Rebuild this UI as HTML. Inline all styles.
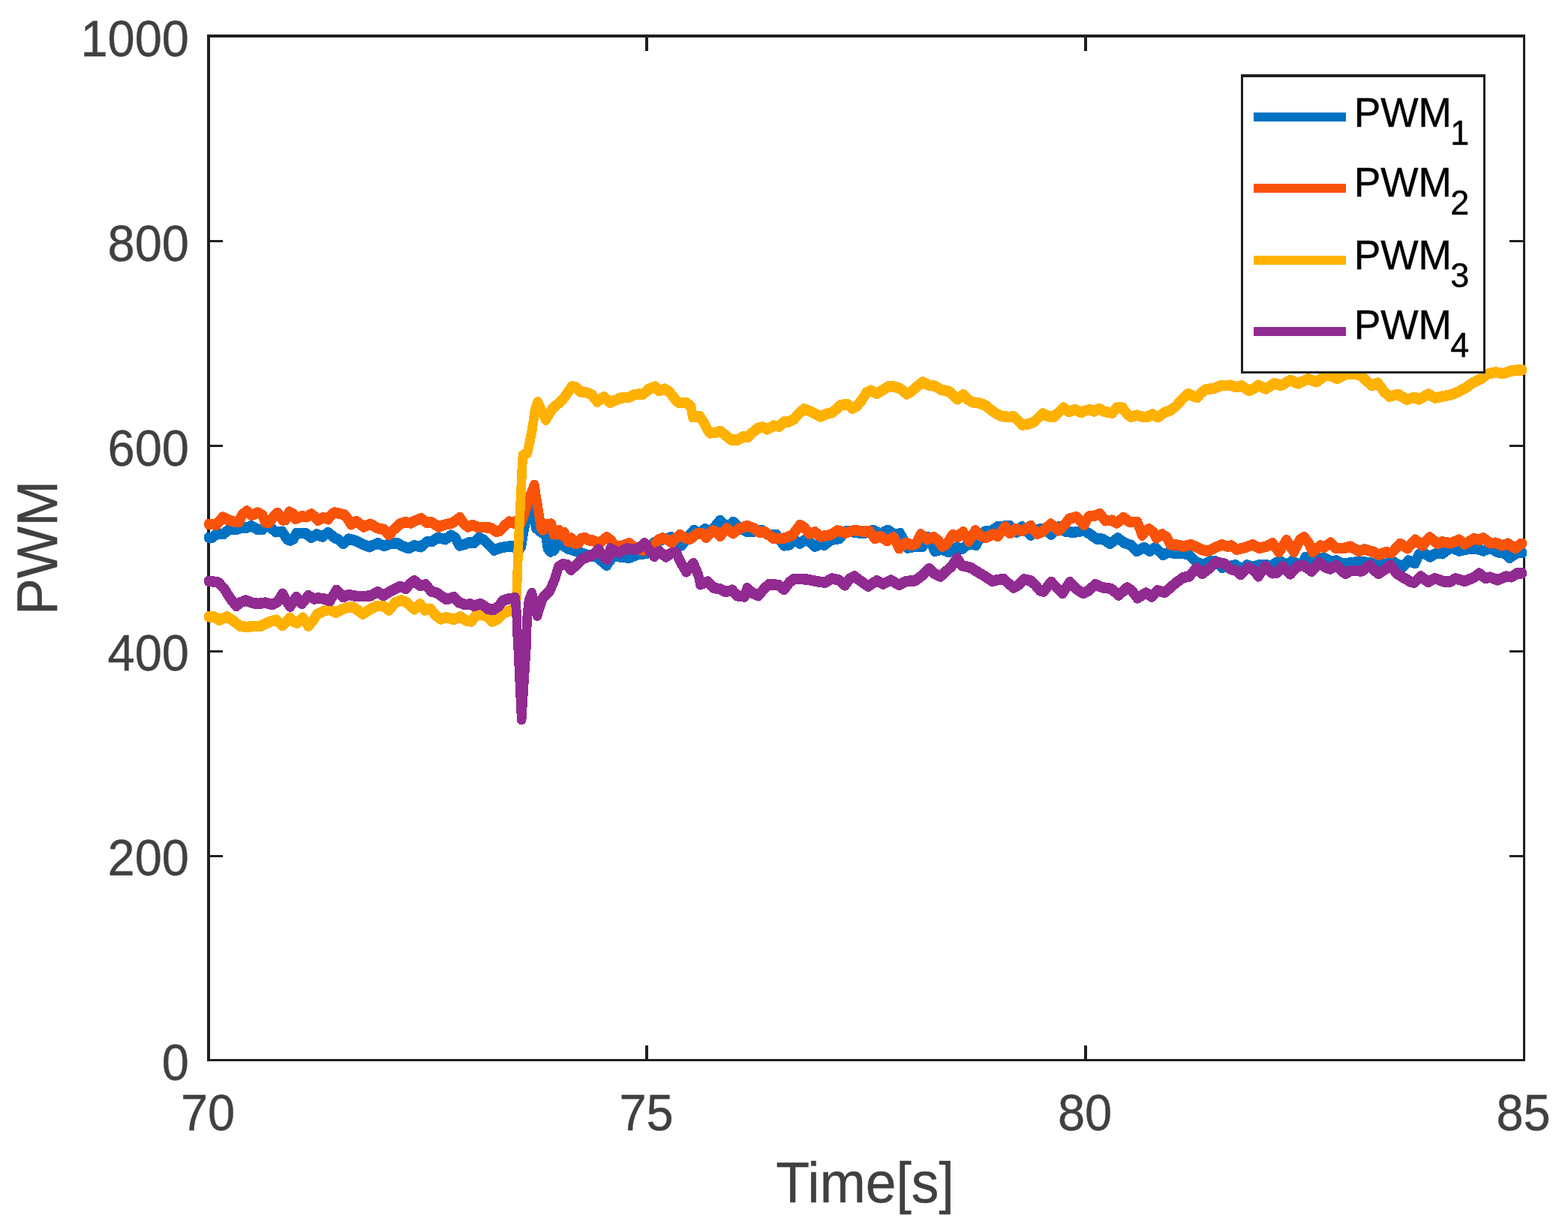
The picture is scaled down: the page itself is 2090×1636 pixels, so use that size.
<!DOCTYPE html>
<html lang="en">
<head>
<meta charset="utf-8">
<title>PWM vs Time</title>
<style>
html,body{margin:0;padding:0;background:#ffffff;}
body{width:2090px;height:1636px;overflow:hidden;}
svg{display:block;}
svg text{font-family:"Liberation Sans",sans-serif;}
</style>
</head>
<body>
<svg width="2090" height="1636" viewBox="0 0 2090 1636">
<rect x="0" y="0" width="2090" height="1636" fill="#ffffff"/>
<g fill="#1f1f1f"><rect x="276" y="46" width="1757" height="4"/><rect x="276" y="1412" width="1757" height="3"/><rect x="276" y="46" width="4" height="1369"/><rect x="2030" y="46" width="3" height="1369"/><rect x="860" y="1394" width="4" height="19"/><rect x="860" y="49" width="4" height="19"/><rect x="1445" y="1394" width="4" height="19"/><rect x="1445" y="49" width="4" height="19"/><rect x="279" y="1140" width="18" height="3"/><rect x="2012" y="1140" width="19" height="3"/><rect x="279" y="867" width="18" height="3"/><rect x="2012" y="867" width="19" height="3"/><rect x="279" y="593" width="18" height="3"/><rect x="2012" y="593" width="19" height="3"/><rect x="279" y="320" width="18" height="3"/><rect x="2012" y="320" width="19" height="3"/></g>
<g id="curves">
<g fill="none" stroke="#0072c3" stroke-width="12.5" stroke-linejoin="round" stroke-linecap="round" shape-rendering="crispEdges"><polyline points="278.3,715.8 282.5,715.8 288.7,711.4 298.1,710.8 305.0,705.2 313.7,705.2 322.4,702.7 328.7,702.7 334.9,700.2 343.7,705.2 349.9,705.2 354.9,699.0 361.2,702.7 367.4,708.3 376.1,707.7 382.4,717.7 386.8,719.6 391.1,717.7 394.9,710.2 407.4,710.2 414.9,715.8 422.4,711.4 429.8,714.6 437.3,709.0 444.8,715.2 451.1,718.3 457.3,723.9 464.8,717.7 474.8,720.2 484.8,725.2 492.3,728.3 503.5,723.3 512.3,727.1 521.0,723.3 530.0,723.3 536.2,727.1 545.0,730.2 552.5,726.4 561.2,728.3 568.7,721.4 576.2,720.8 583.7,715.8 593.7,718.3 601.2,712.7 607.4,716.4 612.4,726.4 619.9,724.6 626.1,722.1 632.4,722.7 638.6,715.8 644.9,718.9 651.1,725.2 658.6,732.7 666.1,729.6 673.6,728.3 682.3,727.1 685.6,728.0 691.0,734.0 695.0,727.0 697.5,711.0 700.0,697.0 704.0,685.0 709.5,678.5 712.0,691.0 714.5,703.0 720.0,707.5 724.0,710.0 727.5,713.0 730.0,730.0 733.5,734.6 735.5,724.0 738.5,732.7 744.2,722.8 757.2,730.5 767.2,733.5 780.2,738.1 790.0,741.0 795.0,741.4 808.7,752.7 817.5,740.2 826.2,741.4 838.7,742.7 851.2,737.7 862.4,737.0 871.2,722.7 882.4,718.9 894.9,715.2 902.4,720.2 908.6,726.4 917.4,713.9 924.9,705.9 932.3,710.2 939.8,704.3 947.3,707.7 959.8,692.8 968.6,702.4 977.3,695.0 984.8,702.1 994.8,707.7 1003.5,707.7 1014.8,705.8 1024.8,712.7 1035.0,712.1 1045.0,726.4 1052.5,725.2 1058.7,718.9 1066.2,723.6 1074.9,717.7 1086.2,727.7 1093.7,723.9 1098.7,725.8 1107.4,718.9 1118.7,717.1 1127.4,707.1 1138.6,708.6 1151.1,710.2 1163.6,705.9 1173.6,710.8 1183.6,705.9 1192.3,711.8 1199.8,710.2 1209.8,729.5 1219.8,727.7 1229.8,727.7 1237.3,715.2 1246.0,733.9 1254.8,731.4 1264.8,735.2 1274.8,728.9 1282.5,730.8 1291.2,723.9 1301.2,725.8 1307.5,713.9 1312.5,707.7 1320.0,707.7 1329.9,701.2 1346.2,700.2 1354.9,708.6 1362.4,701.2 1373.7,712.7 1382.4,705.2 1389.9,703.9 1401.1,711.4 1411.1,701.4 1419.9,707.7 1431.1,708.9 1444.8,706.4 1452.3,710.8 1462.3,717.7 1469.8,717.7 1479.8,723.9 1489.8,716.4 1498.5,722.7 1507.3,725.8 1514.8,733.9 1525.0,728.9 1532.5,733.9 1540.0,728.9 1550.0,738.9 1558.7,735.2 1566.2,737.0 1576.2,736.4 1584.9,738.9 1594.9,748.9 1604.9,752.0 1612.4,747.7 1621.2,747.7 1628.6,755.8 1638.6,753.9 1646.8,752.4 1654.9,757.6 1662.4,752.4 1669.9,755.1 1679.8,752.0 1688.6,752.4 1694.8,753.9 1701.1,748.9 1707.3,747.7 1714.8,752.7 1722.3,747.0 1734.8,753.3 1739.8,742.0 1748.5,748.9 1757.3,743.9 1764.8,742.7 1774.8,747.7 1781.0,746.4 1790.0,750.8 1808.7,748.3 1825.0,748.9 1840.0,752.7 1857.4,748.3 1864.9,752.7 1869.9,755.1 1877.4,746.4 1886.2,750.2 1891.2,738.3 1897.4,736.4 1906.1,741.4 1914.9,736.4 1922.4,737.3 1933.6,728.9 1944.9,733.5 1956.1,731.0 1967.3,730.2 1977.3,733.5 1986.1,729.5 1996.1,735.2 2004.8,736.4 2012.3,742.7 2022.3,736.0 2028.8,736.0"/><polyline points="278.3,717.8 282.5,717.8 288.7,713.4 298.1,712.8 305.0,707.2 313.7,707.2 322.4,704.7 328.7,704.7 334.9,702.2 343.7,707.2 349.9,707.2 354.9,701.0 361.2,704.7 367.4,710.3 376.1,709.7 382.4,719.7 386.8,721.6 391.1,719.7 394.9,712.2 407.4,712.2 414.9,717.8 422.4,713.4 429.8,716.6 437.3,711.0 444.8,717.2 451.1,720.3 457.3,725.9 464.8,719.7 474.8,722.2 484.8,727.2 492.3,730.3 503.5,725.3 512.3,729.1 521.0,725.3 530.0,725.3 536.2,729.1 545.0,732.2 552.5,728.4 561.2,730.3 568.7,723.4 576.2,722.8 583.7,717.8 593.7,720.3 601.2,714.7 607.4,718.4 612.4,728.4 619.9,726.6 626.1,724.1 632.4,724.7 638.6,717.8 644.9,720.9 651.1,727.2 658.6,734.7 666.1,731.6 673.6,730.3 682.3,729.1 685.6,730.0 691.0,736.0 695.0,729.0 697.5,713.0 700.0,699.0 704.0,687.0 709.5,680.5 712.0,693.0 714.5,705.0 720.0,709.5 724.0,712.0 727.5,715.0 730.0,732.0 733.5,736.6 735.5,726.0 738.5,734.7 744.2,724.8 757.2,732.5 767.2,735.5 780.2,740.1 790.0,743.0 795.0,743.4 808.7,754.7 817.5,742.2 826.2,743.4 838.7,744.7 851.2,739.7 862.4,739.0 871.2,724.7 882.4,720.9 894.9,717.2 902.4,722.2 908.6,728.4 917.4,715.9 924.9,707.9 932.3,712.2 939.8,706.3 947.3,709.7 959.8,694.8 968.6,704.4 977.3,697.0 984.8,704.1 994.8,709.7 1003.5,709.7 1014.8,707.8 1024.8,714.7 1035.0,714.1 1045.0,728.4 1052.5,727.2 1058.7,720.9 1066.2,725.6 1074.9,719.7 1086.2,729.7 1093.7,725.9 1098.7,727.8 1107.4,720.9 1118.7,719.1 1127.4,709.1 1138.6,710.6 1151.1,712.2 1163.6,707.9 1173.6,712.8 1183.6,707.9 1192.3,713.8 1199.8,712.2 1209.8,731.5 1219.8,729.7 1229.8,729.7 1237.3,717.2 1246.0,735.9 1254.8,733.4 1264.8,737.2 1274.8,730.9 1282.5,732.8 1291.2,725.9 1301.2,727.8 1307.5,715.9 1312.5,709.7 1320.0,709.7 1329.9,703.2 1346.2,702.2 1354.9,710.6 1362.4,703.2 1373.7,714.7 1382.4,707.2 1389.9,705.9 1401.1,713.4 1411.1,703.4 1419.9,709.7 1431.1,710.9 1444.8,708.4 1452.3,712.8 1462.3,719.7 1469.8,719.7 1479.8,725.9 1489.8,718.4 1498.5,724.7 1507.3,727.8 1514.8,735.9 1525.0,730.9 1532.5,735.9 1540.0,730.9 1550.0,740.9 1558.7,737.2 1566.2,739.0 1576.2,738.4 1584.9,740.9 1594.9,750.9 1604.9,754.0 1612.4,749.7 1621.2,749.7 1628.6,757.8 1638.6,755.9 1646.8,754.4 1654.9,759.6 1662.4,754.4 1669.9,757.1 1679.8,754.0 1688.6,754.4 1694.8,755.9 1701.1,750.9 1707.3,749.7 1714.8,754.7 1722.3,749.0 1734.8,755.3 1739.8,744.0 1748.5,750.9 1757.3,745.9 1764.8,744.7 1774.8,749.7 1781.0,748.4 1790.0,752.8 1808.7,750.3 1825.0,750.9 1840.0,754.7 1857.4,750.3 1864.9,754.7 1869.9,757.1 1877.4,748.4 1886.2,752.2 1891.2,740.3 1897.4,738.4 1906.1,743.4 1914.9,738.4 1922.4,739.3 1933.6,730.9 1944.9,735.5 1956.1,733.0 1967.3,732.2 1977.3,735.5 1986.1,731.5 1996.1,737.2 2004.8,738.4 2012.3,744.7 2022.3,738.0 2028.8,738.0"/></g>
<g fill="none" stroke="#f9530a" stroke-width="12.5" stroke-linejoin="round" stroke-linecap="round" shape-rendering="crispEdges"><polyline points="278.3,698.0 282.5,698.0 288.7,698.7 296.8,688.7 305.6,692.5 313.7,695.2 318.7,694.6 322.4,685.8 328.7,680.5 335.6,685.8 343.7,682.5 349.9,685.8 353.0,695.2 358.7,695.8 364.9,687.7 369.9,682.7 376.8,692.5 380.5,692.1 385.5,681.5 390.5,684.0 393.6,690.8 402.4,687.1 408.6,688.3 414.9,684.4 419.9,688.3 423.6,692.7 431.1,689.0 437.3,691.2 443.0,684.0 446.1,682.5 453.6,684.0 459.8,685.8 464.8,692.7 467.9,698.3 474.8,694.0 484.8,701.5 493.5,697.7 503.5,703.3 512.3,705.2 518.5,712.1 524.8,705.2 526.2,704.0 532.5,697.7 540.0,695.2 547.5,696.5 553.7,693.3 561.2,690.2 568.7,695.8 574.9,695.2 584.9,701.5 591.2,699.0 602.4,696.5 607.4,693.3 613.0,689.0 618.7,697.7 623.7,701.5 629.9,699.0 637.4,702.1 644.9,702.1 653.6,702.7 661.1,707.7 666.1,707.1 673.6,699.0 678.6,694.6 684.8,696.5 686.2,694.5 694.5,696.5 699.5,682.0 705.8,662.4 712.3,646.0 714.9,663.3 719.2,690.7 721.5,703.0 724.0,705.5 727.5,698.5 734.8,697.6 737.9,711.3 740.5,706.5 742.9,711.3 745.5,706.3 749.8,713.2 752.3,709.0 754.5,716.0 757.3,721.3 761.6,716.5 766.0,723.5 771.6,723.1 774.7,716.9 780.3,716.3 784.7,719.4 790.0,719.7 798.7,723.3 808.7,715.2 815.0,720.2 820.0,727.7 828.7,727.1 838.7,723.3 847.4,730.2 857.4,732.7 869.9,728.3 877.4,718.9 883.0,716.4 889.9,718.9 894.9,722.1 906.1,712.1 913.6,716.4 919.9,717.7 929.8,710.2 937.3,710.8 941.1,715.8 949.8,706.4 956.1,708.9 959.8,713.9 968.6,703.3 977.3,710.2 986.0,703.3 996.0,700.2 1004.8,703.3 1012.3,708.9 1019.8,708.3 1031.2,717.1 1040.0,717.1 1046.2,716.4 1056.2,712.7 1066.2,699.0 1072.4,702.7 1078.7,710.8 1086.2,708.3 1093.7,714.6 1099.9,713.3 1107.4,712.1 1116.2,706.4 1127.4,709.6 1138.6,705.8 1151.1,707.7 1158.6,707.1 1166.1,717.1 1173.6,713.9 1182.3,720.2 1191.1,715.2 1198.6,730.2 1207.3,722.7 1214.8,725.8 1221.1,723.9 1227.3,711.4 1236.0,718.3 1244.8,715.2 1251.0,720.2 1256.0,727.7 1262.3,723.9 1269.8,712.1 1276.2,715.2 1283.7,708.3 1291.2,720.8 1300.0,706.4 1307.5,713.9 1313.7,715.8 1323.7,711.4 1329.9,713.9 1339.9,701.4 1346.2,710.2 1353.7,703.9 1362.4,707.1 1373.7,700.2 1382.4,710.8 1389.9,707.7 1400.5,697.5 1411.1,706.4 1419.9,697.7 1424.9,690.8 1434.8,688.3 1444.8,699.0 1451.1,687.7 1459.8,686.5 1466.1,684.2 1473.6,693.3 1482.3,692.7 1488.5,696.5 1497.3,689.0 1506.0,695.2 1516.0,695.2 1522.5,712.7 1526.2,707.7 1531.2,704.2 1537.5,708.9 1541.2,716.4 1548.7,711.4 1555.0,715.2 1560.0,725.2 1570.0,725.8 1577.4,727.7 1587.4,725.2 1596.2,728.9 1602.4,732.0 1609.9,734.3 1617.4,730.2 1628.6,725.2 1636.1,727.7 1641.1,726.4 1648.6,731.8 1659.9,728.9 1669.9,725.2 1678.6,729.9 1687.3,727.7 1696.1,723.3 1704.8,735.2 1714.8,719.2 1724.8,734.9 1732.3,718.9 1738.5,715.2 1744.8,723.9 1749.8,735.2 1759.8,726.4 1764.8,728.9 1773.5,722.7 1781.0,730.2 1790.0,730.2 1800.0,727.7 1811.2,733.9 1818.7,731.4 1831.2,735.2 1837.5,738.9 1847.4,735.2 1854.9,736.4 1866.2,723.9 1876.2,730.2 1886.2,718.7 1896.1,726.4 1905.5,715.4 1916.1,723.9 1922.4,721.4 1933.6,723.3 1944.9,718.7 1952.3,724.6 1964.8,717.1 1971.1,718.9 1977.3,716.4 1986.1,723.3 1993.6,722.7 2002.3,726.4 2009.8,723.7 2019.8,730.2 2027.3,723.9 2028.8,723.9"/><polyline points="278.3,700.0 282.5,700.0 288.7,700.7 296.8,690.7 305.6,694.5 313.7,697.2 318.7,696.6 322.4,687.8 328.7,682.5 335.6,687.8 343.7,684.5 349.9,687.8 353.0,697.2 358.7,697.8 364.9,689.7 369.9,684.7 376.8,694.5 380.5,694.1 385.5,683.5 390.5,686.0 393.6,692.8 402.4,689.1 408.6,690.3 414.9,686.4 419.9,690.3 423.6,694.7 431.1,691.0 437.3,693.2 443.0,686.0 446.1,684.5 453.6,686.0 459.8,687.8 464.8,694.7 467.9,700.3 474.8,696.0 484.8,703.5 493.5,699.7 503.5,705.3 512.3,707.2 518.5,714.1 524.8,707.2 526.2,706.0 532.5,699.7 540.0,697.2 547.5,698.5 553.7,695.3 561.2,692.2 568.7,697.8 574.9,697.2 584.9,703.5 591.2,701.0 602.4,698.5 607.4,695.3 613.0,691.0 618.7,699.7 623.7,703.5 629.9,701.0 637.4,704.1 644.9,704.1 653.6,704.7 661.1,709.7 666.1,709.1 673.6,701.0 678.6,696.6 684.8,698.5 686.2,696.5 694.5,698.5 699.5,684.0 705.8,664.4 712.3,648.0 714.9,665.3 719.2,692.7 721.5,705.0 724.0,707.5 727.5,700.5 734.8,699.6 737.9,713.3 740.5,708.5 742.9,713.3 745.5,708.3 749.8,715.2 752.3,711.0 754.5,718.0 757.3,723.3 761.6,718.5 766.0,725.5 771.6,725.1 774.7,718.9 780.3,718.3 784.7,721.4 790.0,721.7 798.7,725.3 808.7,717.2 815.0,722.2 820.0,729.7 828.7,729.1 838.7,725.3 847.4,732.2 857.4,734.7 869.9,730.3 877.4,720.9 883.0,718.4 889.9,720.9 894.9,724.1 906.1,714.1 913.6,718.4 919.9,719.7 929.8,712.2 937.3,712.8 941.1,717.8 949.8,708.4 956.1,710.9 959.8,715.9 968.6,705.3 977.3,712.2 986.0,705.3 996.0,702.2 1004.8,705.3 1012.3,710.9 1019.8,710.3 1031.2,719.1 1040.0,719.1 1046.2,718.4 1056.2,714.7 1066.2,701.0 1072.4,704.7 1078.7,712.8 1086.2,710.3 1093.7,716.6 1099.9,715.3 1107.4,714.1 1116.2,708.4 1127.4,711.6 1138.6,707.8 1151.1,709.7 1158.6,709.1 1166.1,719.1 1173.6,715.9 1182.3,722.2 1191.1,717.2 1198.6,732.2 1207.3,724.7 1214.8,727.8 1221.1,725.9 1227.3,713.4 1236.0,720.3 1244.8,717.2 1251.0,722.2 1256.0,729.7 1262.3,725.9 1269.8,714.1 1276.2,717.2 1283.7,710.3 1291.2,722.8 1300.0,708.4 1307.5,715.9 1313.7,717.8 1323.7,713.4 1329.9,715.9 1339.9,703.4 1346.2,712.2 1353.7,705.9 1362.4,709.1 1373.7,702.2 1382.4,712.8 1389.9,709.7 1400.5,699.5 1411.1,708.4 1419.9,699.7 1424.9,692.8 1434.8,690.3 1444.8,701.0 1451.1,689.7 1459.8,688.5 1466.1,686.2 1473.6,695.3 1482.3,694.7 1488.5,698.5 1497.3,691.0 1506.0,697.2 1516.0,697.2 1522.5,714.7 1526.2,709.7 1531.2,706.2 1537.5,710.9 1541.2,718.4 1548.7,713.4 1555.0,717.2 1560.0,727.2 1570.0,727.8 1577.4,729.7 1587.4,727.2 1596.2,730.9 1602.4,734.0 1609.9,736.3 1617.4,732.2 1628.6,727.2 1636.1,729.7 1641.1,728.4 1648.6,733.8 1659.9,730.9 1669.9,727.2 1678.6,731.9 1687.3,729.7 1696.1,725.3 1704.8,737.2 1714.8,721.2 1724.8,736.9 1732.3,720.9 1738.5,717.2 1744.8,725.9 1749.8,737.2 1759.8,728.4 1764.8,730.9 1773.5,724.7 1781.0,732.2 1790.0,732.2 1800.0,729.7 1811.2,735.9 1818.7,733.4 1831.2,737.2 1837.5,740.9 1847.4,737.2 1854.9,738.4 1866.2,725.9 1876.2,732.2 1886.2,720.7 1896.1,728.4 1905.5,717.4 1916.1,725.9 1922.4,723.4 1933.6,725.3 1944.9,720.7 1952.3,726.6 1964.8,719.1 1971.1,720.9 1977.3,718.4 1986.1,725.3 1993.6,724.7 2002.3,728.4 2009.8,725.7 2019.8,732.2 2027.3,725.9 2028.8,725.9"/></g>
<g fill="none" stroke="#ffb100" stroke-width="12.5" stroke-linejoin="round" stroke-linecap="round" shape-rendering="crispEdges"><polyline points="278.3,821.3 278.7,821.3 285.0,821.3 292.5,825.7 302.5,821.3 311.2,827.0 320.0,833.8 328.7,835.1 337.4,833.8 347.4,833.8 354.9,830.1 362.4,827.0 368.7,825.7 376.1,833.2 381.1,828.8 386.1,822.6 391.1,827.6 396.1,829.5 403.6,822.6 411.1,833.8 417.4,826.3 422.4,818.2 431.1,813.9 438.6,811.4 447.3,815.7 454.8,812.0 462.3,808.9 469.8,808.2 476.1,812.0 483.5,817.6 492.3,812.0 502.3,807.0 511.0,807.0 518.5,812.6 524.8,805.1 526.2,802.6 535.0,799.5 542.5,802.6 547.5,807.6 552.5,811.4 560.0,804.5 566.2,812.6 573.7,810.7 579.9,818.8 587.4,824.5 594.9,822.0 604.9,825.1 613.7,821.3 621.2,826.3 628.6,827.6 634.9,818.2 642.4,818.8 649.9,821.3 656.1,827.6 662.4,825.1 669.9,817.6 677.4,814.0 683.0,812.0 687.5,811.0 688.8,788.0 690.5,739.0 691.3,719.0 694.0,664.0 696.0,621.3 696.9,606.4 703.1,602.6 709.4,571.4 713.1,546.4 716.8,535.4 727.5,558.7 736.2,543.9 744.9,536.4 751.2,530.2 757.4,521.4 762.4,514.3 767.4,515.2 773.7,521.4 781.2,522.1 788.7,525.2 796.1,534.6 804.9,528.3 813.6,535.8 819.9,532.7 827.4,529.6 838.6,528.7 846.1,524.8 857.3,524.6 864.8,517.7 873.6,514.6 878.6,520.2 886.1,517.7 892.3,521.4 901.0,532.7 904.8,535.8 914.8,535.8 921.0,541.4 923.5,555.2 932.3,553.9 938.5,562.7 943.5,572.6 946.2,576.4 953.7,575.8 960.0,573.9 968.7,580.8 975.0,585.8 983.7,585.5 990.0,581.4 996.2,582.0 1002.4,576.4 1009.9,570.1 1016.2,568.3 1022.4,571.4 1031.2,566.6 1038.7,567.6 1044.9,561.4 1051.1,561.7 1058.6,557.7 1064.9,550.2 1071.7,544.3 1078.6,547.0 1087.4,551.4 1093.6,554.5 1101.1,550.8 1108.6,549.5 1114.8,544.5 1121.1,538.9 1129.8,538.3 1136.1,543.7 1142.3,540.2 1148.6,532.7 1154.8,522.7 1161.0,519.6 1168.5,523.9 1174.8,520.2 1183.5,514.6 1191.0,514.3 1200.0,517.1 1208.7,524.5 1215.0,520.8 1221.2,515.2 1230.0,508.3 1238.7,512.9 1246.2,513.6 1254.9,518.9 1264.9,520.8 1271.2,526.4 1276.2,531.4 1283.7,525.2 1289.9,531.4 1296.1,535.2 1306.1,536.7 1313.6,539.5 1321.1,545.8 1327.4,550.1 1334.9,554.1 1344.9,554.9 1351.1,554.5 1357.3,560.1 1362.3,565.5 1371.1,564.3 1378.6,561.4 1384.8,555.1 1389.8,550.5 1397.3,554.1 1404.8,554.9 1411.0,548.9 1417.3,542.7 1424.8,548.0 1433.5,545.1 1441.0,548.9 1446.2,546.6 1452.5,545.1 1458.7,547.4 1465.0,543.9 1471.2,547.4 1482.5,549.9 1488.7,542.7 1496.2,542.7 1502.4,551.4 1507.4,554.9 1514.9,552.6 1524.9,555.1 1529.9,554.5 1536.2,551.4 1543.7,555.1 1552.4,548.9 1559.9,546.4 1567.4,540.8 1576.1,530.8 1583.6,523.9 1591.1,527.7 1596.1,528.9 1601.1,522.7 1607.3,518.3 1617.3,517.1 1627.3,513.3 1639.8,512.7 1648.6,515.2 1654.8,513.3 1664.8,520.2 1671.0,517.1 1677.3,512.7 1687.3,517.4 1694.8,512.7 1698.7,510.2 1707.5,512.9 1720.0,505.8 1730.0,510.4 1743.7,504.3 1754.9,508.3 1764.9,500.8 1771.2,498.9 1782.4,503.9 1793.7,498.3 1804.9,497.7 1813.6,498.9 1821.1,506.4 1828.6,513.3 1836.5,509.5 1844.0,520.2 1851.5,527.6 1864.0,524.9 1875.2,531.8 1885.2,528.9 1891.4,531.4 1903.9,524.5 1912.7,529.5 1923.9,527.4 1935.1,525.1 1943.9,521.4 1953.9,515.8 1963.9,508.9 1975.1,503.3 1982.6,497.7 1993.8,495.4 2003.8,497.1 2013.8,493.6 2023.8,492.4 2028.8,492.4"/><polyline points="278.3,823.3 278.7,823.3 285.0,823.3 292.5,827.7 302.5,823.3 311.2,829.0 320.0,835.8 328.7,837.1 337.4,835.8 347.4,835.8 354.9,832.1 362.4,829.0 368.7,827.7 376.1,835.2 381.1,830.8 386.1,824.6 391.1,829.6 396.1,831.5 403.6,824.6 411.1,835.8 417.4,828.3 422.4,820.2 431.1,815.9 438.6,813.4 447.3,817.7 454.8,814.0 462.3,810.9 469.8,810.2 476.1,814.0 483.5,819.6 492.3,814.0 502.3,809.0 511.0,809.0 518.5,814.6 524.8,807.1 526.2,804.6 535.0,801.5 542.5,804.6 547.5,809.6 552.5,813.4 560.0,806.5 566.2,814.6 573.7,812.7 579.9,820.8 587.4,826.5 594.9,824.0 604.9,827.1 613.7,823.3 621.2,828.3 628.6,829.6 634.9,820.2 642.4,820.8 649.9,823.3 656.1,829.6 662.4,827.1 669.9,819.6 677.4,816.0 683.0,814.0 687.5,813.0 688.8,790.0 690.5,741.0 691.3,721.0 694.0,666.0 696.0,623.3 696.9,608.4 703.1,604.6 709.4,573.4 713.1,548.4 716.8,537.4 727.5,560.7 736.2,545.9 744.9,538.4 751.2,532.2 757.4,523.4 762.4,516.3 767.4,517.2 773.7,523.4 781.2,524.1 788.7,527.2 796.1,536.6 804.9,530.3 813.6,537.8 819.9,534.7 827.4,531.6 838.6,530.7 846.1,526.8 857.3,526.6 864.8,519.7 873.6,516.6 878.6,522.2 886.1,519.7 892.3,523.4 901.0,534.7 904.8,537.8 914.8,537.8 921.0,543.4 923.5,557.2 932.3,555.9 938.5,564.7 943.5,574.6 946.2,578.4 953.7,577.8 960.0,575.9 968.7,582.8 975.0,587.8 983.7,587.5 990.0,583.4 996.2,584.0 1002.4,578.4 1009.9,572.1 1016.2,570.3 1022.4,573.4 1031.2,568.6 1038.7,569.6 1044.9,563.4 1051.1,563.7 1058.6,559.7 1064.9,552.2 1071.7,546.3 1078.6,549.0 1087.4,553.4 1093.6,556.5 1101.1,552.8 1108.6,551.5 1114.8,546.5 1121.1,540.9 1129.8,540.3 1136.1,545.7 1142.3,542.2 1148.6,534.7 1154.8,524.7 1161.0,521.6 1168.5,525.9 1174.8,522.2 1183.5,516.6 1191.0,516.3 1200.0,519.1 1208.7,526.5 1215.0,522.8 1221.2,517.2 1230.0,510.3 1238.7,514.9 1246.2,515.6 1254.9,520.9 1264.9,522.8 1271.2,528.4 1276.2,533.4 1283.7,527.2 1289.9,533.4 1296.1,537.2 1306.1,538.7 1313.6,541.5 1321.1,547.8 1327.4,552.1 1334.9,556.1 1344.9,556.9 1351.1,556.5 1357.3,562.1 1362.3,567.5 1371.1,566.3 1378.6,563.4 1384.8,557.1 1389.8,552.5 1397.3,556.1 1404.8,556.9 1411.0,550.9 1417.3,544.7 1424.8,550.0 1433.5,547.1 1441.0,550.9 1446.2,548.6 1452.5,547.1 1458.7,549.4 1465.0,545.9 1471.2,549.4 1482.5,551.9 1488.7,544.7 1496.2,544.7 1502.4,553.4 1507.4,556.9 1514.9,554.6 1524.9,557.1 1529.9,556.5 1536.2,553.4 1543.7,557.1 1552.4,550.9 1559.9,548.4 1567.4,542.8 1576.1,532.8 1583.6,525.9 1591.1,529.7 1596.1,530.9 1601.1,524.7 1607.3,520.3 1617.3,519.1 1627.3,515.3 1639.8,514.7 1648.6,517.2 1654.8,515.3 1664.8,522.2 1671.0,519.1 1677.3,514.7 1687.3,519.4 1694.8,514.7 1698.7,512.2 1707.5,514.9 1720.0,507.8 1730.0,512.4 1743.7,506.3 1754.9,510.3 1764.9,502.8 1771.2,500.9 1782.4,505.9 1793.7,500.3 1804.9,499.7 1813.6,500.9 1821.1,508.4 1828.6,515.3 1836.5,511.5 1844.0,522.2 1851.5,529.6 1864.0,526.9 1875.2,533.8 1885.2,530.9 1891.4,533.4 1903.9,526.5 1912.7,531.5 1923.9,529.4 1935.1,527.1 1943.9,523.4 1953.9,517.8 1963.9,510.9 1975.1,505.3 1982.6,499.7 1993.8,497.4 2003.8,499.1 2013.8,495.6 2023.8,494.4 2028.8,494.4"/></g>
<g fill="none" stroke="#912b91" stroke-width="12.5" stroke-linejoin="round" stroke-linecap="round" shape-rendering="crispEdges"><polyline points="278.3,773.9 281.2,773.9 291.2,775.8 298.7,783.9 307.5,797.6 315.0,807.0 320.0,802.6 327.4,799.5 337.4,803.2 344.9,803.9 353.7,802.6 362.4,805.1 369.9,801.4 376.8,790.7 382.4,801.4 386.8,807.6 394.9,795.1 402.4,803.9 411.1,793.2 418.6,797.6 423.6,796.4 432.3,797.6 439.8,800.1 448.6,785.8 457.3,795.1 464.8,792.0 474.8,793.9 484.8,793.9 493.5,793.6 503.5,788.3 511.0,793.2 519.8,787.6 526.2,784.5 533.7,780.8 541.2,783.9 546.2,777.6 552.5,773.3 560.0,780.1 567.5,778.3 574.9,787.6 582.4,789.5 588.7,793.9 594.9,798.2 604.9,795.1 611.2,802.0 619.9,805.1 627.4,804.5 632.4,807.0 639.9,803.9 647.4,808.2 650.0,810.9 657.7,812.0 665.3,807.0 669.9,800.2 675.3,797.9 680.6,797.1 686.8,796.3 688.7,818.5 689.4,844.0 690.0,849.0 695.2,958.0 702.2,849.0 701.9,844.0 702.8,820.0 705.1,799.4 709.0,790.2 716.2,819.7 718.5,810.9 723.5,796.3 732.7,787.1 740.0,769.9 744.2,755.0 749.5,751.5 755.7,751.9 761.0,758.8 769.4,751.2 776.3,744.3 784.0,741.2 790.1,738.9 797.5,731.4 806.2,743.3 810.0,745.2 813.7,730.2 823.7,735.8 836.2,730.2 844.9,732.0 851.2,730.2 859.3,723.3 867.4,735.2 872.4,740.8 878.6,733.9 887.4,741.4 894.9,736.4 901.1,735.2 907.4,748.9 914.9,761.4 924.2,750.2 931.1,766.4 933.6,778.3 943.6,774.5 951.1,782.6 959.8,784.5 967.3,788.2 976.1,785.7 982.3,793.2 992.3,794.5 996.0,783.2 1003.5,790.1 1011.0,793.2 1018.5,783.9 1024.8,778.3 1027.5,778.3 1037.5,778.9 1045.0,785.1 1052.5,775.1 1058.7,770.8 1074.9,771.4 1087.4,773.9 1099.9,775.8 1108.7,770.4 1118.7,772.6 1126.1,779.5 1132.4,770.8 1138.6,767.4 1147.4,773.9 1157.4,780.7 1168.6,773.3 1177.3,777.6 1187.3,772.6 1198.6,778.9 1208.6,773.9 1219.8,773.3 1229.8,765.8 1238.5,757.0 1244.8,763.3 1253.5,767.6 1261.0,760.8 1268.5,753.9 1275.6,743.3 1282.5,753.3 1288.7,754.5 1295.0,756.4 1302.5,761.4 1311.2,766.4 1322.4,773.9 1328.7,772.4 1337.4,770.8 1344.9,777.6 1351.2,782.6 1357.4,778.9 1364.9,771.4 1373.7,773.3 1379.9,778.9 1386.1,786.4 1391.1,787.6 1401.1,774.9 1408.6,782.6 1416.1,790.1 1426.1,775.1 1434.8,784.5 1443.6,790.1 1451.1,786.4 1459.8,778.3 1469.8,782.4 1481.0,783.9 1491.0,792.6 1502.3,782.6 1508.5,786.4 1516.0,796.4 1527.5,789.5 1535.0,794.5 1542.5,786.4 1552.5,788.9 1561.2,781.4 1568.7,775.1 1577.4,768.9 1584.9,767.6 1594.9,756.4 1602.4,763.9 1612.4,756.4 1621.2,748.3 1632.4,750.8 1639.9,757.6 1648.6,760.1 1653.6,765.1 1663.6,755.8 1671.1,758.9 1677.3,767.4 1686.1,753.9 1696.1,763.3 1702.3,762.6 1709.8,753.9 1719.8,764.5 1729.8,753.9 1737.3,752.7 1748.5,760.8 1758.5,748.9 1766.0,755.1 1773.5,757.6 1781.0,752.7 1790.0,761.4 1793.7,763.9 1800.0,759.9 1815.0,760.4 1826.2,752.7 1832.5,760.1 1837.5,763.9 1844.9,758.9 1853.7,752.4 1861.2,763.3 1871.2,769.5 1879.9,774.5 1884.9,775.8 1893.7,767.6 1903.6,775.1 1912.4,770.1 1924.9,774.5 1933.6,774.5 1939.9,770.4 1952.3,773.9 1964.8,768.9 1971.7,763.6 1979.8,769.9 1986.1,768.6 1996.1,772.4 2007.3,767.6 2014.8,768.3 2022.3,763.3 2028.8,763.3"/><polyline points="278.3,775.9 281.2,775.9 291.2,777.8 298.7,785.9 307.5,799.6 315.0,809.0 320.0,804.6 327.4,801.5 337.4,805.2 344.9,805.9 353.7,804.6 362.4,807.1 369.9,803.4 376.8,792.7 382.4,803.4 386.8,809.6 394.9,797.1 402.4,805.9 411.1,795.2 418.6,799.6 423.6,798.4 432.3,799.6 439.8,802.1 448.6,787.8 457.3,797.1 464.8,794.0 474.8,795.9 484.8,795.9 493.5,795.6 503.5,790.3 511.0,795.2 519.8,789.6 526.2,786.5 533.7,782.8 541.2,785.9 546.2,779.6 552.5,775.3 560.0,782.1 567.5,780.3 574.9,789.6 582.4,791.5 588.7,795.9 594.9,800.2 604.9,797.1 611.2,804.0 619.9,807.1 627.4,806.5 632.4,809.0 639.9,805.9 647.4,810.2 650.0,812.9 657.7,814.0 665.3,809.0 669.9,802.2 675.3,799.9 680.6,799.1 686.8,798.3 688.7,820.5 689.4,846.0 690.0,851.0 695.2,960.0 702.2,851.0 701.9,846.0 702.8,822.0 705.1,801.4 709.0,792.2 716.2,821.7 718.5,812.9 723.5,798.3 732.7,789.1 740.0,771.9 744.2,757.0 749.5,753.5 755.7,753.9 761.0,760.8 769.4,753.2 776.3,746.3 784.0,743.2 790.1,740.9 797.5,733.4 806.2,745.3 810.0,747.2 813.7,732.2 823.7,737.8 836.2,732.2 844.9,734.0 851.2,732.2 859.3,725.3 867.4,737.2 872.4,742.8 878.6,735.9 887.4,743.4 894.9,738.4 901.1,737.2 907.4,750.9 914.9,763.4 924.2,752.2 931.1,768.4 933.6,780.3 943.6,776.5 951.1,784.6 959.8,786.5 967.3,790.2 976.1,787.7 982.3,795.2 992.3,796.5 996.0,785.2 1003.5,792.1 1011.0,795.2 1018.5,785.9 1024.8,780.3 1027.5,780.3 1037.5,780.9 1045.0,787.1 1052.5,777.1 1058.7,772.8 1074.9,773.4 1087.4,775.9 1099.9,777.8 1108.7,772.4 1118.7,774.6 1126.1,781.5 1132.4,772.8 1138.6,769.4 1147.4,775.9 1157.4,782.7 1168.6,775.3 1177.3,779.6 1187.3,774.6 1198.6,780.9 1208.6,775.9 1219.8,775.3 1229.8,767.8 1238.5,759.0 1244.8,765.3 1253.5,769.6 1261.0,762.8 1268.5,755.9 1275.6,745.3 1282.5,755.3 1288.7,756.5 1295.0,758.4 1302.5,763.4 1311.2,768.4 1322.4,775.9 1328.7,774.4 1337.4,772.8 1344.9,779.6 1351.2,784.6 1357.4,780.9 1364.9,773.4 1373.7,775.3 1379.9,780.9 1386.1,788.4 1391.1,789.6 1401.1,776.9 1408.6,784.6 1416.1,792.1 1426.1,777.1 1434.8,786.5 1443.6,792.1 1451.1,788.4 1459.8,780.3 1469.8,784.4 1481.0,785.9 1491.0,794.6 1502.3,784.6 1508.5,788.4 1516.0,798.4 1527.5,791.5 1535.0,796.5 1542.5,788.4 1552.5,790.9 1561.2,783.4 1568.7,777.1 1577.4,770.9 1584.9,769.6 1594.9,758.4 1602.4,765.9 1612.4,758.4 1621.2,750.3 1632.4,752.8 1639.9,759.6 1648.6,762.1 1653.6,767.1 1663.6,757.8 1671.1,760.9 1677.3,769.4 1686.1,755.9 1696.1,765.3 1702.3,764.6 1709.8,755.9 1719.8,766.5 1729.8,755.9 1737.3,754.7 1748.5,762.8 1758.5,750.9 1766.0,757.1 1773.5,759.6 1781.0,754.7 1790.0,763.4 1793.7,765.9 1800.0,761.9 1815.0,762.4 1826.2,754.7 1832.5,762.1 1837.5,765.9 1844.9,760.9 1853.7,754.4 1861.2,765.3 1871.2,771.5 1879.9,776.5 1884.9,777.8 1893.7,769.6 1903.6,777.1 1912.4,772.1 1924.9,776.5 1933.6,776.5 1939.9,772.4 1952.3,775.9 1964.8,770.9 1971.7,765.6 1979.8,771.9 1986.1,770.6 1996.1,774.4 2007.3,769.6 2014.8,770.3 2022.3,765.3 2028.8,765.3"/></g>
</g>
<rect x="1654" y="99" width="326" height="399" fill="#1f1f1f"/>
<rect x="1657" y="103" width="320" height="392" fill="#ffffff"/>
<rect x="1671" y="150" width="123" height="12" fill="#0072c3"/>
<text transform="translate(1804.7,169.0) scale(1.000,1.030)" font-size="53.30" fill="#000000" stroke="#000000" stroke-width="0.4" text-anchor="start">PWM<tspan dx="-1.7" dy="23.6" font-size="45.00">1</tspan></text>
<rect x="1671" y="245" width="123" height="12" fill="#f9530a"/>
<text transform="translate(1804.7,261.8) scale(1.000,1.030)" font-size="53.30" fill="#000000" stroke="#000000" stroke-width="0.4" text-anchor="start">PWM<tspan dx="-1.7" dy="23.6" font-size="45.00">2</tspan></text>
<rect x="1671" y="341" width="123" height="12" fill="#ffb100"/>
<text transform="translate(1804.7,358.9) scale(1.000,1.030)" font-size="53.30" fill="#000000" stroke="#000000" stroke-width="0.4" text-anchor="start">PWM<tspan dx="-1.7" dy="23.6" font-size="45.00">3</tspan></text>
<rect x="1671" y="436" width="123" height="12" fill="#912b91"/>
<text transform="translate(1804.7,451.7) scale(1.000,1.030)" font-size="53.30" fill="#000000" stroke="#000000" stroke-width="0.4" text-anchor="start">PWM<tspan dx="-1.7" dy="23.6" font-size="45.00">4</tspan></text>
<text transform="translate(252.0,1440.4) scale(0.975,1.040)" font-size="66.67" fill="#404040" stroke="#404040" stroke-width="0.4" text-anchor="end">0</text>
<text transform="translate(252.0,1167.3) scale(0.975,1.040)" font-size="66.67" fill="#404040" stroke="#404040" stroke-width="0.4" text-anchor="end">200</text>
<text transform="translate(252.0,894.2) scale(0.975,1.040)" font-size="66.67" fill="#404040" stroke="#404040" stroke-width="0.4" text-anchor="end">400</text>
<text transform="translate(252.0,621.1) scale(0.975,1.040)" font-size="66.67" fill="#404040" stroke="#404040" stroke-width="0.4" text-anchor="end">600</text>
<text transform="translate(252.0,348.0) scale(0.975,1.040)" font-size="66.67" fill="#404040" stroke="#404040" stroke-width="0.4" text-anchor="end">800</text>
<text transform="translate(252.0,74.9) scale(0.975,1.040)" font-size="66.67" fill="#404040" stroke="#404040" stroke-width="0.4" text-anchor="end">1000</text>
<text transform="translate(277.1,1507.0) scale(0.975,1.040)" font-size="66.67" fill="#404040" stroke="#404040" stroke-width="0.4" text-anchor="middle">70</text>
<text transform="translate(861.6,1507.0) scale(0.975,1.040)" font-size="66.67" fill="#404040" stroke="#404040" stroke-width="0.4" text-anchor="middle">75</text>
<text transform="translate(1446.1,1507.0) scale(0.975,1.040)" font-size="66.67" fill="#404040" stroke="#404040" stroke-width="0.4" text-anchor="middle">80</text>
<text transform="translate(2030.6,1507.0) scale(0.975,1.040)" font-size="66.67" fill="#404040" stroke="#404040" stroke-width="0.4" text-anchor="middle">85</text>
<text transform="translate(1153.1,1603.0) scale(1.000,1.040)" font-size="73.33" fill="#404040" stroke="#404040" stroke-width="0.4" text-anchor="middle">Time[s]</text>
<text transform="translate(76.2,730.3) rotate(-90) scale(1.000,1.040)" font-size="73.33" fill="#404040" stroke="#404040" stroke-width="0.4" text-anchor="middle">PWM</text>
</svg>
</body>
</html>
